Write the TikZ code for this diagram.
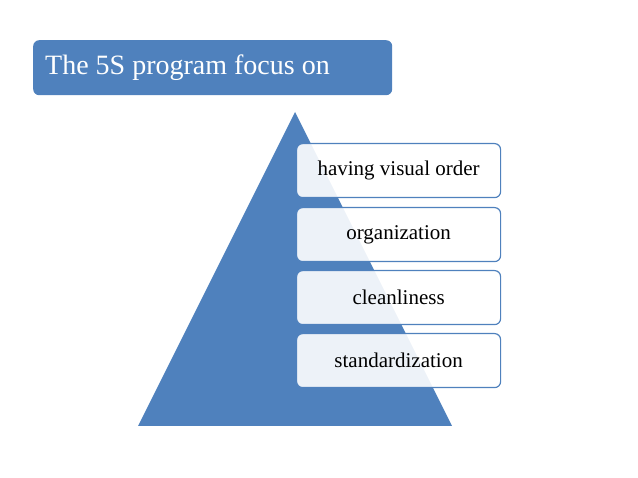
\documentclass[tikz,border=0pt]{standalone}
\usepackage{fontspec}
\setmainfont{Liberation Serif}
\definecolor{blu}{HTML}{4F81BD}
\begin{document}
\begin{tikzpicture}[x=1pt,y=-1pt,
  item/.style={draw=blu,line width=1.2pt,fill=white,fill opacity=0.9,text opacity=1,rounded corners=6pt,minimum width=204pt,minimum height=54pt,inner sep=0pt,font=\fontsize{21}{24}\selectfont,anchor=north west}]
\useasboundingbox (0,0) rectangle (638,478);
\node[fill=blu,rounded corners=6pt,minimum width=359pt,minimum height=55pt,anchor=north west,text=white,font=\fontsize{28}{32}\selectfont,align=left,inner sep=0pt] (title) at (33,40) {};
\node[anchor=west,text=white,font=\fontsize{28}{32}\selectfont,inner sep=0pt] (tt) at (45,68) {The 5S program focus on};
\fill[blu] (295,112) coordinate (apex) -- (452,426) coordinate (br) -- (138,426) coordinate (bl) -- cycle;
\node[item] (a) at (296,143) {having visual order};
\node[item] (b) at (296,207) {organization};
\node[item] (c) at (296,270) {cleanliness};
\node[item] (d) at (296,333) {standardization};
\end{tikzpicture}
\end{document}
